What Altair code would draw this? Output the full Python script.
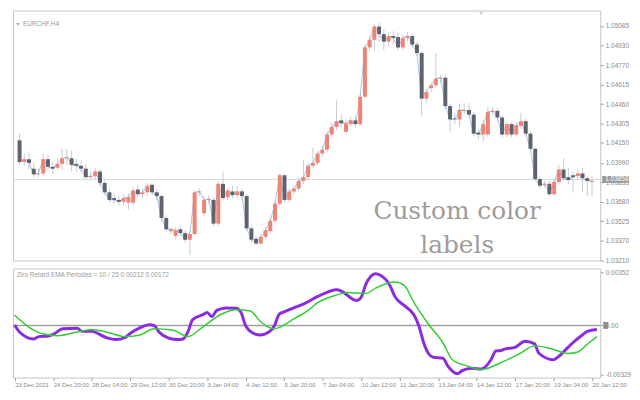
import json
import altair as alt
import pandas as pd

# ---- EURCHF H4 candles (prices in points, 1 point = 0.00001) ----
open_pts = [104171,103997,104020,103944,103899,103906,104020,103959,103952,103982,
            104027,104027,103982,103967,103944,103876,103884,103921,103830,103755,
            103709,103694,103679,103672,103672,103777,103740,103755,103815,103755,
            103725,103550,103444,103407,103460,103429,103376,103422,103755,103588,
            103694,103694,103505,103823,103717,103762,103732,103762,103725,103467,
            103384,103346,103399,103444,103528,103664,103891,103694,103762,103785,
            103846,103876,103967,103990,104065,104096,104217,104277,104330,104239,
            104300,104330,104300,104519,104913,104974,105080,105019,104959,105004,
            104996,104913,104989,105004,104936,104868,104504,104588,104610,104663,
            104671,104444,104345,104338,104406,104413,104376,104232,104217,104217,
            104398,104406,104353,104217,104300,104217,104285,104323,104224,104103,
            103861,103815,103823,103740,103838,103937,103876,103891,103884,103906,
            103868,103838]
high_pts = [104224,104065,104073,103990,103952,104065,104058,103997,104027,104103,
            104103,104088,104027,104012,103982,103921,103952,103937,103853,103785,
            103740,103725,103740,103747,103800,103815,103785,103830,103830,103785,
            103740,103573,103482,103475,103490,103452,103444,103770,103785,103725,
            103732,103717,103846,103914,103793,103808,103800,103785,103740,103490,
            103407,103422,103475,103558,103687,103906,103906,103785,103808,103876,
            104012,103990,104111,104088,104126,104239,104315,104489,104376,104338,
            104360,104360,104542,104936,105004,105102,105110,105057,105034,105042,
            105027,105019,105034,105027,104959,104883,104580,104633,104868,104694,
            104694,104466,104391,104466,104466,104466,104398,104262,104330,104436,
            104436,104429,104376,104323,104315,104315,104391,104345,104247,104118,
            103884,103846,103846,103861,103974,104027,103952,103921,103937,103952,
            103884,103884]
low_pts = [103974,103967,103937,103876,103876,103884,103937,103899,103937,103937,
           103974,103921,103921,103914,103861,103853,103861,103808,103732,103672,
           103664,103649,103649,103619,103649,103717,103709,103725,103732,103694,
           103528,103437,103422,103384,103407,103353,103255,103407,103725,103566,
           103664,103482,103490,103687,103694,103709,103709,103694,103452,103361,
           103331,103331,103376,103422,103505,103649,103672,103672,103740,103762,
           103823,103853,103944,103967,104035,104073,104194,104254,104270,104217,
           104277,104270,104285,104504,104890,104883,104959,104890,104921,104936,
           104890,104890,104959,104913,104845,104368,104466,104557,104588,104633,
           104421,104239,104300,104277,104376,104353,104201,104179,104164,104194,
           104368,104323,104194,104194,104194,104201,104262,104209,104088,103846,
           103785,103793,103725,103725,103815,103846,103823,103755,103861,103762,
           103725,103717]
close_pts = [103997,104020,103990,103899,103906,104020,103959,103944,103982,104027,
             104035,103974,103967,103944,103876,103884,103921,103830,103755,103694,
             103694,103679,103709,103717,103770,103740,103755,103808,103755,103725,
             103550,103460,103460,103452,103429,103376,103422,103755,103762,103694,
             103702,103505,103823,103709,103770,103732,103762,103725,103467,103376,
             103346,103399,103452,103528,103664,103891,103694,103762,103785,103846,
             103876,103967,103990,104065,104096,104217,104277,104323,104307,104307,
             104330,104300,104519,104913,104974,105080,105019,104959,105004,104989,
             104913,104989,105004,104936,104868,104504,104557,104610,104663,104671,
             104444,104338,104338,104413,104413,104376,104224,104217,104300,104398,
             104406,104353,104217,104300,104217,104292,104323,104224,104103,103861,
             103808,103823,103740,103838,103937,103868,103853,103876,103906,103868,
             103846,103846]

# ---- Indicator readings (bar index, value in 1e-5) ----
purple_bar = [0,1,4,5,7,8,10,13,14,16,19,21,23,24,26,28,29,30,32,34,35,36,37,39,40,41,42,44,
              46,47,48,50,51,53,54,55,56,58,60,63,67,68,71,72,73,75,76,78,79,81,83,84,85,86,
              87,89,90,92,93,95,97,99,100,101,102,104,106,108,109,112,113,115,116,118,119,121]
purple_val = [2,-44,-91,-75,-71,-60,-23,-19,-40,-40,-81,-95,-81,-54,-17,4,-2,-44,-85,-95,-91,-44,
              39,70,86,59,101,117,115,90,-2,-58,-64,-40,-2,76,90,117,142,194,239,228,167,188,
              276,346,335,266,194,132,70,-2,-116,-188,-213,-219,-271,-324,-303,-287,-292,-230,
              -171,-168,-157,-147,-106,-122,-188,-230,-209,-147,-116,-64,-40,-27]
green_bar = [0,1,3,6,9,13,16,19,23,26,29,33,36,39,43,46,49,51,54,55,58,61,63,67,69,73,75,79,
             81,83,86,89,91,94,97,101,105,108,111,115,117,119,121]
green_val = [70,39,-13,-58,-69,-44,-27,-44,-75,-64,-23,-33,-75,-13,76,105,97,28,-23,-13,43,101,
             152,204,220,214,249,290,266,152,8,-116,-230,-271,-295,-250,-188,-137,-151,-188,
             -178,-126,-75]

price_ticks = [1.05085, 1.04930, 1.04770, 1.04615, 1.04460, 1.04305, 1.04150,
               1.03990, 1.03835, 1.03680, 1.03525, 1.03370, 1.03210]
ind_ticks = [0.00352, 0.0, -0.00329]
date_ticks = list(range(0, 121, 8))
date_labels = ["23 Dec 2021", "24 Dec 20:00", "28 Dec 04:00", "29 Dec 12:00",
               "30 Dec 20:00", "3 Jan 04:00", "4 Jan 12:00", "5 Jan 20:00",
               "7 Jan 04:00", "10 Jan 12:00", "11 Jan 20:00", "13 Jan 04:00",
               "14 Jan 12:00", "17 Jan 20:00", "19 Jan 04:00", "20 Jan 12:00"]
bid_price = 1.03858
price_domain = [1.03210, 1.05208]
ind_domain = [-0.00349, 0.00381]
x_domain = [-0.35, 121.7]
note_lines = ["Custom color", "labels"]
note_bar = [92.5, 92.5]
note_price = [1.03538, 1.03268]

n = len(open_pts)
assert all(len(a) == n for a in (high_pts, low_pts, close_pts))
assert len(purple_bar) == len(purple_val) and len(green_bar) == len(green_val)

W, H1, H2 = 592, 252, 110
BULL, BEAR = "#ef8374", "#5e636d"
LABEL = "#8a8a8a"

bars = pd.DataFrame({
    "k": list(range(n)),
    "open": [v / 1e5 for v in open_pts],
    "high": [v / 1e5 for v in high_pts],
    "low": [v / 1e5 for v in low_pts],
    "close": [v / 1e5 for v in close_pts],
})

x_scale = alt.Scale(domain=x_domain, nice=False, zero=False)
y_scale = alt.Scale(domain=price_domain, nice=False, zero=False)
i_scale = alt.Scale(domain=ind_domain, nice=False, zero=False)

y_axis = alt.Axis(orient="right", values=price_ticks, format=".5f", title=None, grid=False,
                  domain=False, tickSize=3, tickColor="#a0a0a0", labelColor=LABEL,
                  labelFontSize=6.5, labelPadding=2, labelOverlap=False, labelFlush=False)
i_axis = alt.Axis(orient="right", values=ind_ticks, title=None, grid=False, domain=False,
                  tickSize=3, tickColor="#a0a0a0", labelColor=LABEL, labelFontSize=6.5,
                  labelPadding=2, labelOverlap=False, labelFlush=False,
                  labelExpr="datum.value == 0 ? '0.00' : (datum.value < 0 ? '-' + format(-datum.value, '.5f') : format(datum.value, '.5f'))")
x_axis = alt.Axis(values=date_ticks, title=None, grid=False, domain=False, tickSize=3,
                  tickColor="#a0a0a0", labelColor=LABEL, labelFontSize=6, labelAlign="left",
                  labelPadding=1, labelOverlap=False, labelFlush=False,
                  labelExpr=json.dumps(date_labels) + "[round(datum.value / 8)]")

X = alt.X("k:Q", scale=x_scale, axis=None)

def Yp(field):
    return alt.Y(field, scale=y_scale, axis=y_axis)

one = pd.DataFrame({"p": [bid_price]})
px_price = (price_domain[1] - price_domain[0]) / H1
box = pd.DataFrame({"p": [bid_price], "lo": [bid_price - 3.5 * px_price],
                    "hi": [bid_price + 3.5 * px_price], "t": [f"{bid_price:.5f}"]})
notes = pd.DataFrame({"k": note_bar, "p": note_price, "t": note_lines})

bid_line = alt.Chart(one).mark_rule(color="#d6d9e0", strokeWidth=1).encode(y=Yp("p:Q"))
wicks = alt.Chart(bars).mark_rule(color="#c5cad6", strokeWidth=1).encode(
    x=X, y=Yp("low:Q"), y2="high:Q")
close_line = alt.Chart(bars).mark_line(color="#93b2e6", strokeWidth=0.8).encode(
    x=X, y=Yp("close:Q"))
bodies = alt.Chart(bars).mark_bar(size=4).encode(
    x=X, y=Yp("open:Q"), y2="close:Q",
    color=alt.condition("datum.close >= datum.open", alt.value(BULL), alt.value(BEAR)))
note_text = alt.Chart(notes).mark_text(font="DejaVu Serif", fontSize=25, color="#a09b99",
                                       align="center", baseline="alphabetic").encode(
    x=X, y=Yp("p:Q"), text="t:N")
bid_box = alt.Chart(box).mark_rect(color="#9a9a9a").encode(
    x=alt.value(W + 2), x2=alt.value(W + 29), y=Yp("lo:Q"), y2="hi:Q")
bid_text = alt.Chart(box).mark_text(color="white", fontSize=6.5, align="left",
                                    baseline="middle").encode(
    x=alt.value(W + 5), y=Yp("p:Q"), text="t:N")
sym_tri = alt.Chart(one).mark_point(shape="triangle-down", filled=True, size=10,
                                    color="#9a9a9a", opacity=1).encode(
    x=alt.value(5), y=alt.value(14))
sym_text = alt.Chart(one).mark_text(text="EURCHF,H4", fontSize=6.5, color="#9a9a9a",
                                    align="left", baseline="middle").encode(
    x=alt.value(10), y=alt.value(14))
shift_tri = alt.Chart(one).mark_point(shape="triangle-down", filled=True, size=18,
                                      color="#d0d0d0", opacity=1).encode(
    x=alt.value(472), y=alt.value(3))

top = alt.layer(bid_line, wicks, close_line, bodies, note_text, bid_box, bid_text,
                sym_tri, sym_text, shift_tri).properties(width=W, height=H1)

pdf = pd.DataFrame({"k": purple_bar, "v": [v / 1e5 for v in purple_val]})
gdf = pd.DataFrame({"k": green_bar, "v": [v / 1e5 for v in green_val]})
zero = pd.DataFrame({"v": [0.0]})
px_ind = (ind_domain[1] - ind_domain[0]) / H2
zbox = pd.DataFrame({"lo": [-3.5 * px_ind], "hi": [3.5 * px_ind]})

Xi = alt.X("k:Q", scale=x_scale, axis=x_axis)

def Yi(field):
    return alt.Y(field, scale=i_scale, axis=i_axis)

zero_line = alt.Chart(zero).mark_rule(color="#a0a0a0", strokeWidth=1.5).encode(y=Yi("v:Q"))
purple = alt.Chart(pdf).mark_line(color="#8a2be2", strokeWidth=3, interpolate="monotone").encode(
    x=Xi, y=Yi("v:Q"))
green = alt.Chart(gdf).mark_line(color="#32cd32", strokeWidth=1.5, interpolate="monotone").encode(
    x=Xi, y=Yi("v:Q"))
zero_box = alt.Chart(zbox).mark_rect(color="#8f8f8f").encode(
    x=alt.value(W + 3), x2=alt.value(W + 8), y=Yi("lo:Q"), y2="hi:Q")
ind_title = alt.Chart(one).mark_text(
    text="Ziro Retard EMA Periodes = 10 / 25  0.00212 0.00172", fontSize=6.5,
    color="#9a9a9a", align="left", baseline="middle").encode(
    x=alt.value(4), y=alt.value(7))

bottom = alt.layer(zero_line, purple, green, zero_box, ind_title).properties(width=W, height=H2)

chart = alt.vconcat(top, bottom, spacing=2).properties(
    padding={"left": 0, "top": 0, "right": 0, "bottom": 0}).configure(
    font="Liberation Sans", padding={"left": 0, "top": 0, "right": 0, "bottom": 0}).configure_view(
    stroke="#c4c4c4", strokeWidth=1)

chart.save("out.html", embed_options={"renderer": "svg", "actions": False})
